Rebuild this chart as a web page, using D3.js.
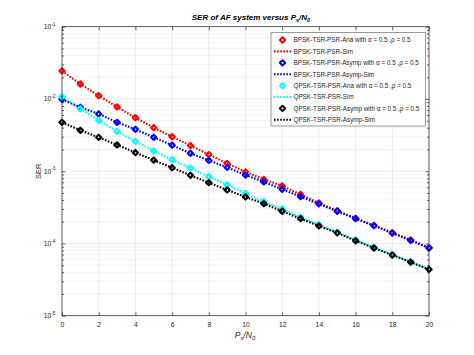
<!DOCTYPE html>
<html><head><meta charset="utf-8">
<script src="https://cdn.jsdelivr.net/npm/d3@7"></script>
<style>body{margin:0;background:#fff}svg{display:block;font-family:"Liberation Sans",Arial,sans-serif}</style>
</head><body><svg id="c" width="474" height="355"></svg>
<script>
const snr = d3.range(0, 21);
const xTicks = [0,2,4,6,8,10,12,14,16,18,20];
const yTicks = [1e-5,1e-4,1e-3,1e-2,1e-1];
const yTickExp = ["-5","-4","-3","-2","-1"];
const bpskAna = [0.0244,0.0161,0.0111,0.00775,0.0055,0.0040,0.0030,0.00226,0.0017,0.00128,0.00098,0.00077,0.000624,0.000478,0.000363,0.000284,0.000223,0.000178,0.000141,0.000112,0.0000873];
const bpskSim = bpskAna;
const bpskAsy = [0.00988,0.00766,0.0062,0.00475,0.0038,0.00294,0.00229,0.00177,0.00141,0.00113,0.000885,0.00071,0.000562,0.000444,0.000352,0.000279,0.00022,0.000176,0.000139,0.00011,0.0000865];
const bpskAsySim = bpskAsy;
const qpskAna = [0.0107,0.0073,0.00506,0.00356,0.00259,0.0019,0.00144,0.0011,0.00084,0.000645,0.000494,0.000378,0.0003,0.00023,0.000182,0.000143,0.000112,0.0000885,0.0000698,0.0000553,0.0000438];
const qpskSim = qpskAna;
const qpskAsy = [0.00475,0.00368,0.00294,0.00231,0.00181,0.00142,0.00112,0.000877,0.000693,0.00055,0.00044,0.000355,0.000279,0.00022,0.000175,0.00014,0.000109,0.0000865,0.0000692,0.0000553,0.0000438];
const qpskAsySim = qpskAsy;
const legendLabels = [
 "BPSK-TSR-PSR-Ana with \u03b1 = 0.5 ,\u03c1 = 0.5","BPSK-TSR-PSR-Sim",
 "BPSK-TSR-PSR-Asymp with \u03b1 = 0.5 ,\u03c1 = 0.5","BPSK-TSR-PSR-Asymp-Sim",
 "QPSK-TSR-PSR-Ana with \u03b1 = 0.5 ,\u03c1 = 0.5","QPSK-TSR-PSR-Sim",
 "QPSK-TSR-PSR-Asymp with \u03b1 = 0.5 ,\u03c1 = 0.5","QPSK-TSR-PSR-Asymp-Sim"];

const series = [
 {v:bpskAna, c:"#ff0000", type:"m"},{v:bpskSim, c:"#ff0000", type:"l"},
 {v:bpskAsy, c:"#0000ff", type:"m"},{v:bpskAsySim, c:"#0000ff", type:"l"},
 {v:qpskAna, c:"#00ffff", type:"m"},{v:qpskSim, c:"#00ffff", type:"l"},
 {v:qpskAsy, c:"#000000", type:"m"},{v:qpskAsySim, c:"#000000", type:"l"}];

const L=62, R=429, T=26.7, B=315.7;
const x = d3.scaleLinear().domain([0,20]).range([L,R]);
const y = d3.scaleLog().domain([1e-5,1e-1]).range([B,T]);
const svg = d3.select("#c");
const tc = "#262626";

const minor = [];
for (let e=-5;e<-1;e++) for (let k=2;k<=9;k++) minor.push(k*Math.pow(10,e));

const g = svg.append("g");
g.selectAll(".mg").data(minor).enter().append("line")
 .attr("x1",L).attr("x2",R).attr("y1",d=>y(d)).attr("y2",d=>y(d))
 .attr("stroke","#ececec").attr("stroke-width",0.6);
g.selectAll(".gx").data(xTicks).enter().append("line")
 .attr("x1",d=>x(d)).attr("x2",d=>x(d)).attr("y1",T).attr("y2",B)
 .attr("stroke","#dedede").attr("stroke-width",0.6);
g.selectAll(".gy").data(yTicks).enter().append("line")
 .attr("x1",L).attr("x2",R).attr("y1",d=>y(d)).attr("y2",d=>y(d))
 .attr("stroke","#dedede").attr("stroke-width",0.6);

function diamond(s){return `M0,${-s}L${s},0L0,${s}L${-s},0Z`;}
const line = d3.line().x((d,i)=>x(snr[i])).y(d=>y(d));

const pg = svg.append("g");
series.forEach(s=>{
 if (s.type==="l") {
  pg.append("path").attr("d",line(s.v)).attr("fill","none").attr("stroke",s.c)
   .attr("stroke-width",2.1).attr("stroke-dasharray","1.6 1.5");
 } else {
  pg.selectAll(null).data(s.v).enter().append("path")
   .attr("d",diamond(2.7))
   .attr("transform",(d,i)=>`translate(${x(snr[i])},${y(d)})`)
   .attr("fill","none").attr("stroke",s.c).attr("stroke-width",2).attr("stroke-linejoin","round");
 }
});

const ax = svg.append("g").attr("stroke",tc).attr("stroke-width",0.7);
ax.append("rect").attr("x",L).attr("y",T).attr("width",R-L).attr("height",B-T).attr("fill","none");
const bx = svg.append("g").attr("transform",`translate(0,${B})`).call(d3.axisBottom(x).tickValues(xTicks).tickSizeInner(-3.5).tickSizeOuter(0).tickPadding(6));
const tx = svg.append("g").attr("transform",`translate(0,${T})`).call(d3.axisTop(x).tickValues(xTicks).tickSizeInner(-3.5).tickSizeOuter(0).tickFormat(""));
const ly = svg.append("g").attr("transform",`translate(${L},0)`).call(d3.axisLeft(y).tickValues(yTicks).tickSizeInner(-3.5).tickSizeOuter(0).tickFormat(""));
const ry = svg.append("g").attr("transform",`translate(${R},0)`).call(d3.axisRight(y).tickValues(yTicks).tickSizeInner(-3.5).tickSizeOuter(0).tickFormat(""));
const lym = svg.append("g").attr("transform",`translate(${L},0)`).call(d3.axisLeft(y).tickValues(minor).tickSizeInner(-2).tickSizeOuter(0).tickFormat(""));
const rym = svg.append("g").attr("transform",`translate(${R},0)`).call(d3.axisRight(y).tickValues(minor).tickSizeInner(-2).tickSizeOuter(0).tickFormat(""));
[bx,tx,ly,ry,lym,rym].forEach(a=>{
 a.select(".domain").remove();
 a.selectAll("line").attr("stroke",tc).attr("stroke-width",0.7);
 a.selectAll("text").attr("fill",tc).attr("font-size",6.8).attr("font-family","Liberation Sans, Arial, sans-serif");
});

const yl = svg.append("g");
yTicks.forEach((t,i)=>{
 const tt = yl.append("text").attr("x",L-6.5).attr("y",y(t)+2.4).attr("text-anchor","end")
  .attr("fill",tc).attr("font-size",6.8);
 tt.append("tspan").text("10");
 tt.append("tspan").attr("dy",-3.2).attr("font-size",4.8).text(yTickExp[i]);
});

const title = svg.append("text").attr("x",251).attr("y",20).attr("text-anchor","middle")
 .attr("font-size",8).attr("font-weight","bold").attr("font-style","italic").attr("fill","#000");
title.append("tspan").text("SER of AF system versus P");
title.append("tspan").attr("dy",1.8).attr("font-size",5.6).text("s");
title.append("tspan").attr("dy",-1.8).text("/N");
title.append("tspan").attr("dy",1.8).attr("font-size",5.6).text("0");

const xl = svg.append("text").attr("x",245).attr("y",338).attr("text-anchor","middle")
 .attr("font-size",8.5).attr("font-style","italic").attr("fill",tc);
xl.append("tspan").text("P");
xl.append("tspan").attr("dy",2).attr("font-size",6).text("s");
xl.append("tspan").attr("dy",-2).text("/N");
xl.append("tspan").attr("dy",2).attr("font-size",6).text("0");

svg.append("text").attr("transform",`translate(41,${(T+B)/2}) rotate(-90)`).attr("text-anchor","middle")
 .attr("font-size",7.5).attr("fill",tc).text("SER");

const lg = svg.append("g");
lg.append("rect").attr("x",271).attr("y",32.7).attr("width",154.5).attr("height",93.3)
 .attr("fill","#fff").attr("stroke","#555").attr("stroke-width",0.6);
legendLabels.forEach((lab,i)=>{
 const cy = 40 + i*11.4;
 const s = series[i];
 if (s.type==="l") {
  lg.append("line").attr("x1",274).attr("x2",291).attr("y1",cy).attr("y2",cy)
   .attr("stroke",s.c).attr("stroke-width",2.1).attr("stroke-dasharray","1.6 1.5");
 } else {
  lg.append("path").attr("d",diamond(2.7)).attr("transform",`translate(282.5,${cy})`)
   .attr("fill","none").attr("stroke",s.c).attr("stroke-width",2).attr("stroke-linejoin","round");
 }
 lg.append("text").attr("x",293.5).attr("y",cy+2.3).attr("font-size",6.3).attr("fill",tc).text(lab);
});
</script></body></html>
